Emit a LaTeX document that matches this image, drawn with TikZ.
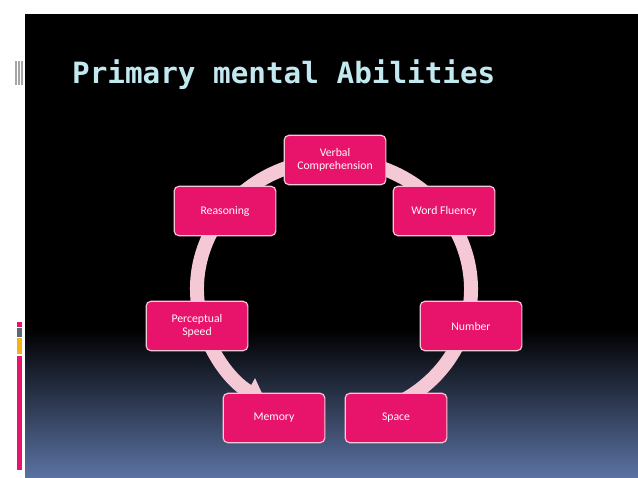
\documentclass[tikz,border=0pt]{standalone}
\usepackage{fontspec}
\setmainfont{Carlito}
\newfontfamily\titlefont{DejaVu Sans Mono}
\usetikzlibrary{arrows.meta,positioning}
\definecolor{boxpink}{HTML}{E8146C}
\definecolor{ringpink}{HTML}{F5C8D6}
\definecolor{titlecyan}{HTML}{C2E8F0}
\definecolor{slideblue}{HTML}{5B72A2}
\definecolor{barbar}{HTML}{5A6878}
\definecolor{baryellow}{HTML}{F2B418}
\tikzset{
ability/.style={draw=ringpink,line width=1pt,fill=boxpink,rounded corners=4pt,
  minimum width=3.05cm,minimum height=1.48cm,align=center,text=white!92!pink,
  font=\fontsize{10}{11}\selectfont}
}
\begin{document}
\begin{tikzpicture}[x=0.03cm,y=-0.03cm]
\useasboundingbox (0,0) rectangle (638,478);
\fill[white] (0,0) rectangle (638,478);
% slide background
\fill[black] (25,14) rectangle (638,330);
\shade[top color=black,bottom color=slideblue] (25,329) rectangle (638,478);
% left bars
\foreach \x in {15,18,21}
\fill[gray!70] (\x,61) rectangle (\x+2,85);
\fill[boxpink] (17,322) rectangle (22,327);
\fill[barbar] (17,328) rectangle (22,337);
\fill[baryellow] (17,338) rectangle (22,354);
\fill[boxpink] (17,356) rectangle (22,470);
% title
\node[anchor=west,text=titlecyan,font=\titlefont\bfseries\fontsize{25}{28}\selectfont] (title) at (68,75) {Primary mental Abilities};
% ring
\draw[ringpink,line width=0.42cm,-{Triangle[length=0.6cm,width=0.85cm]}]
  (334,289) ++(80:137 and 129) arc[start angle=80,end angle=-240,x radius=137,y radius=129];
% boxes
\node[ability] (verbal) at (335,160) {Verbal\\Comprehension};
\node[ability] (fluency) at (444,211) {Word Fluency};
\node[ability] (number) at (471,326) {Number};
\node[ability] (space) at (396,418) {Space};
\node[ability] (memory) at (274,418) {Memory};
\node[ability] (speed) at (197,326) {Perceptual\\Speed};
\node[ability] (reasoning) at (225,211) {Reasoning};
\end{tikzpicture}
\end{document}
